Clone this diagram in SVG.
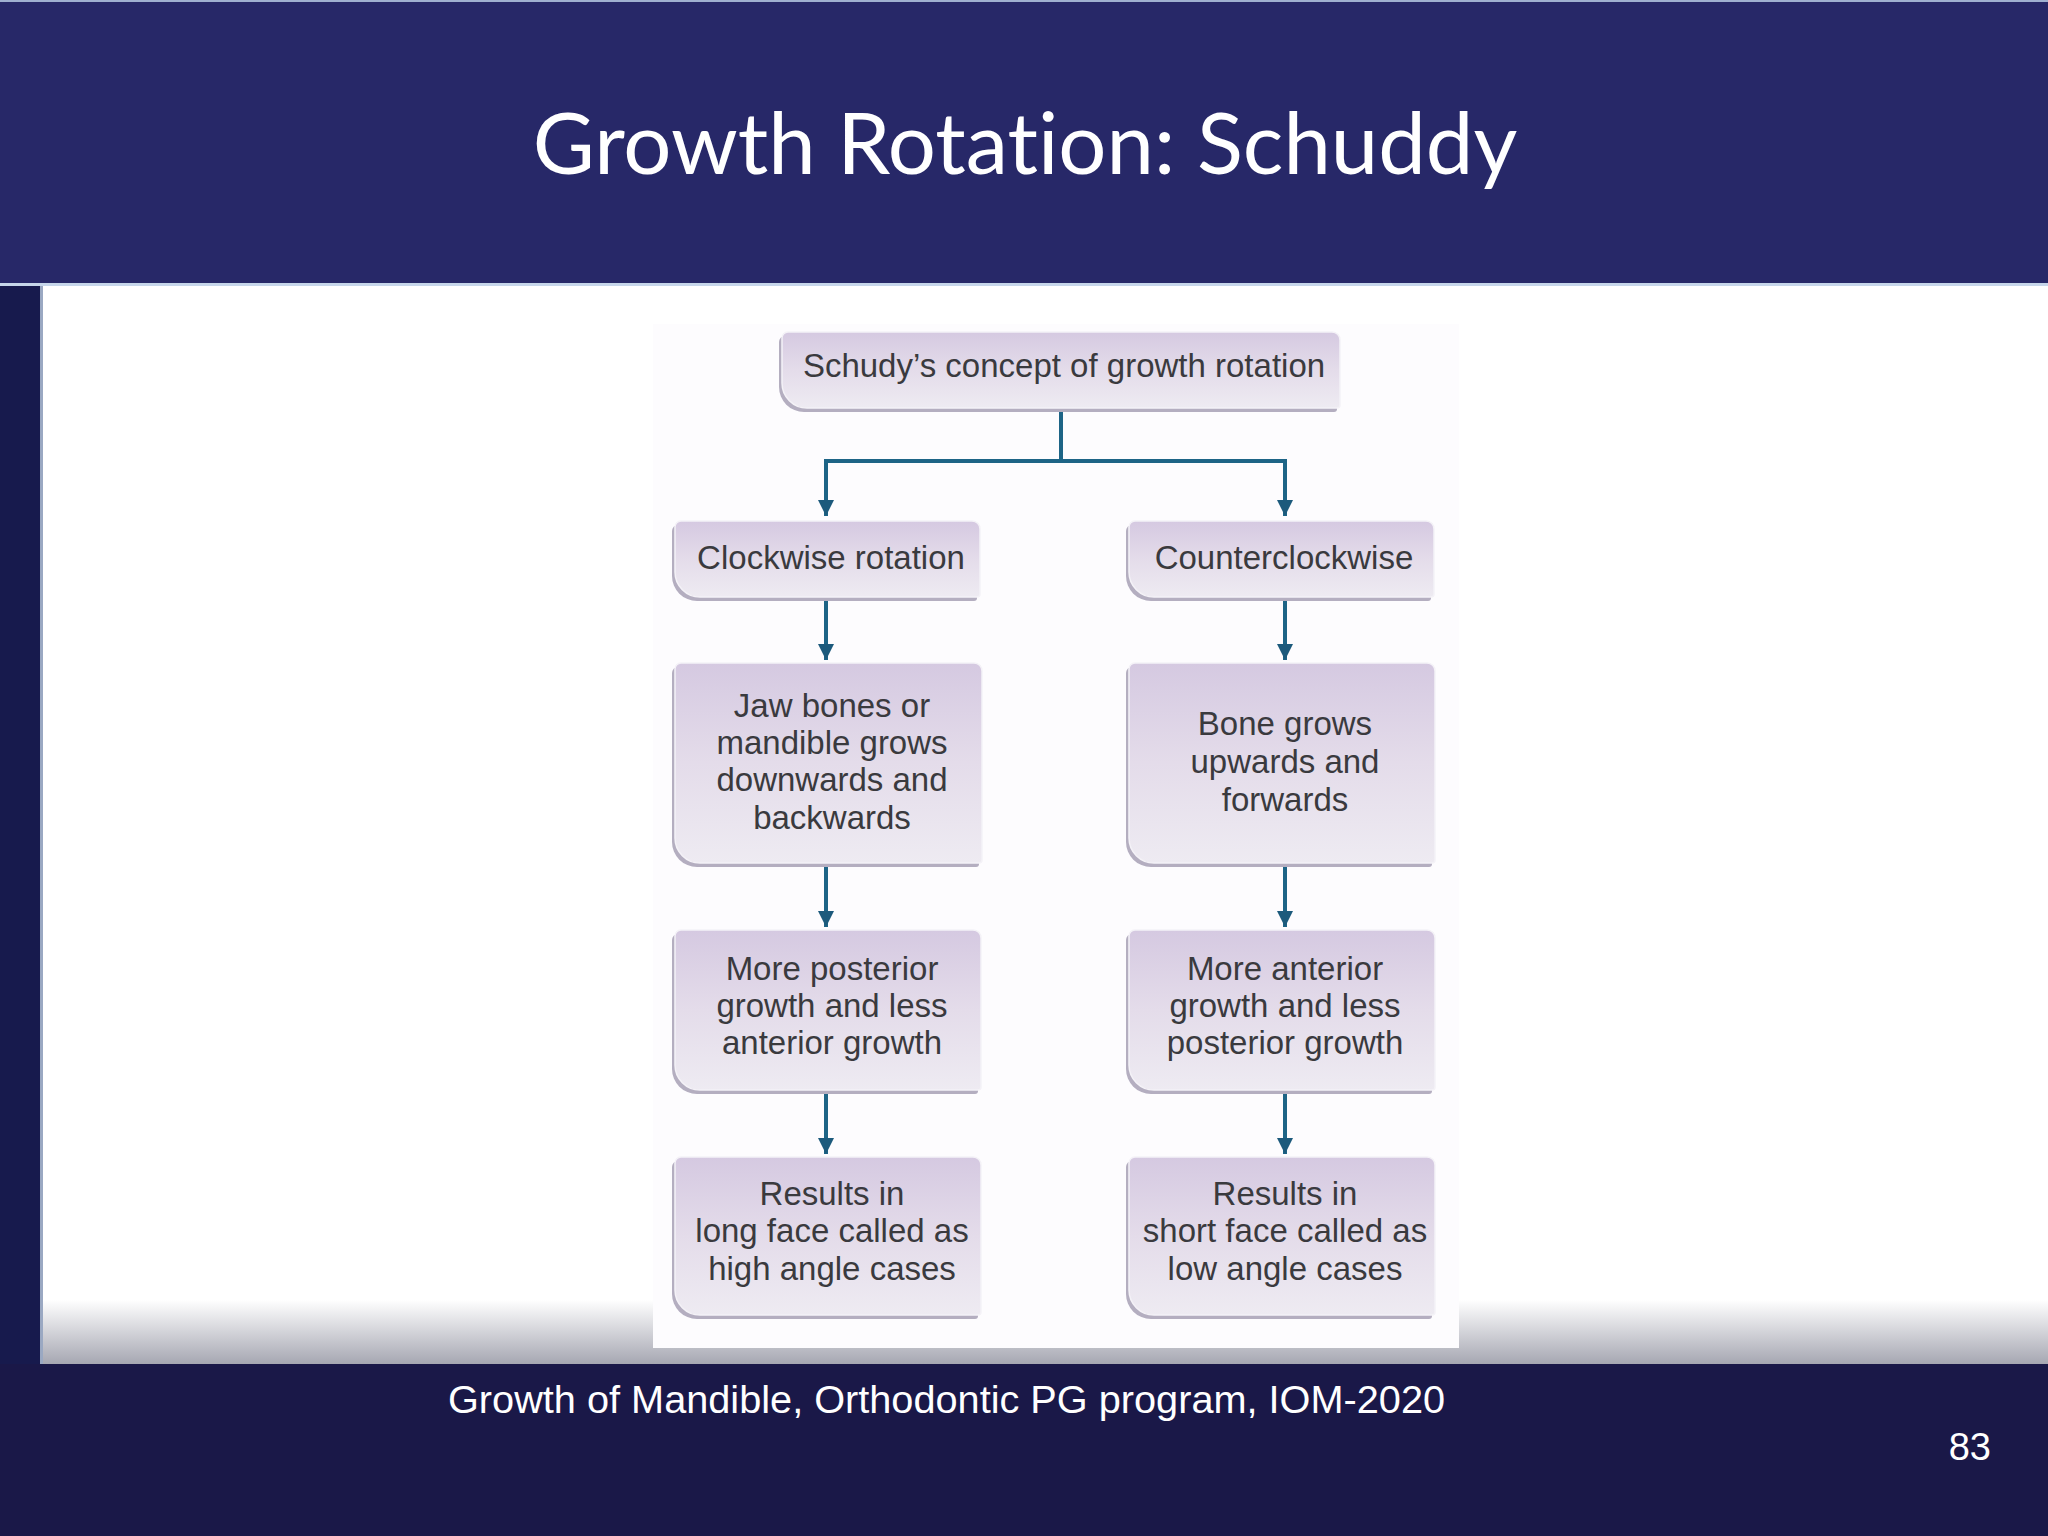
<svg xmlns="http://www.w3.org/2000/svg" width="2048" height="1536" viewBox="0 0 2048 1536">
  <defs>
    <linearGradient id="boxFill" x1="0" y1="0" x2="0" y2="1">
      <stop offset="0" stop-color="#d5c9e1"/>
      <stop offset="0.5" stop-color="#e4dcea"/>
      <stop offset="1" stop-color="#eeebf2"/>
    </linearGradient>
    <linearGradient id="fade" x1="0" y1="0" x2="0" y2="1">
      <stop offset="0" stop-color="#ffffff"/>
      <stop offset="1" stop-color="#a6a7b2"/>
    </linearGradient>
    <marker id="arrow" markerUnits="userSpaceOnUse" markerWidth="18" markerHeight="18" viewBox="0 0 18 18" refX="16" refY="9" orient="auto">
      <path d="M0,1 L16,9 L0,17 Z" fill="#1c5a7c"/>
    </marker>
    <style>
      .title { font-family: Lato, "Open Sans", "Liberation Sans", sans-serif; font-size: 85px; fill: #ffffff; font-variant-ligatures: none; }
      .foot { font-family: "Liberation Sans", Arial, sans-serif; fill: #ffffff; }
      .lbl { font-family: "Liberation Sans", Arial, sans-serif; font-size: 33px; fill: #3a3a3e; text-anchor: middle; }
      .box { fill: url(#boxFill); stroke: #f4f2f7; stroke-width: 1.5; }
      .shadow { fill: #b4aec0; }
      .conn { fill: none; stroke: #1d6486; stroke-width: 4; marker-end: url(#arrow); }
      .connplain { fill: none; stroke: #1d6486; stroke-width: 4; }
    </style>
  </defs>

  <!-- slide background -->
  <rect x="0" y="0" width="2048" height="1536" fill="#ffffff"/>
  <rect x="0" y="1300" width="2048" height="64" fill="url(#fade)"/>
  <!-- header -->
  <rect x="0" y="0" width="2048" height="284" fill="#272868"/>
  <rect x="0" y="0" width="2048" height="2" fill="#9fb0d0"/>
  <rect x="0" y="283" width="2048" height="3" fill="#c6d6ea"/>
  <!-- left strip -->
  <rect x="0" y="286" width="40" height="1078" fill="#171a4d"/>
  <rect x="40" y="286" width="3" height="1078" fill="#9aa8c2"/>
  <!-- footer -->
  <rect x="0" y="1364" width="2048" height="172" fill="#1a1848"/>

  <text class="title" x="1025" y="174" text-anchor="middle">Growth Rotation: Schuddy</text>
  <text class="foot" x="448" y="1413" font-size="39.7">Growth of Mandible, Orthodontic PG program, IOM-2020</text>
  <text class="foot" x="1991" y="1460" font-size="38" text-anchor="end">83</text>

  <!-- diagram image backdrop -->
  <rect x="653" y="324" width="806" height="1024" fill="#fdfcfe"/>

  <!-- connectors -->
  <g id="connectors">
    <path class="connplain" d="M1061,409 V461"/>
    <path class="conn" d="M1063,461 H826 V516"/>
    <path class="conn" d="M1059,461 H1285 V516"/>
    <path class="conn" d="M826,597 V660"/>
    <path class="conn" d="M1285,597 V660"/>
    <path class="conn" d="M826,863 V927"/>
    <path class="conn" d="M1285,863 V927"/>
    <path class="conn" d="M826,1090 V1154"/>
    <path class="conn" d="M1285,1090 V1154"/>
  </g>

  <!-- nodes -->
  <g id="n-root">
    <path class="shadow" transform="translate(-3,4)" d="M788,332 H1332 A8,8 0 0 1 1340,340 V405 A3,3 0 0 1 1337,408 H807 A25,25 0 0 1 782,383 V338 A6,6 0 0 1 788,332 Z"/>
    <path class="box" d="M788,332 H1332 A8,8 0 0 1 1340,340 V405 A3,3 0 0 1 1337,408 H807 A25,25 0 0 1 782,383 V338 A6,6 0 0 1 788,332 Z"/>
    <text class="lbl" x="1064" y="377">Schudy’s concept of growth rotation</text>
  </g>

  <g id="n-clockwise">
    <path class="shadow" transform="translate(-3,4)" d="M681,521 H972 A8,8 0 0 1 980,529 V594 A3,3 0 0 1 977,597 H700 A25,25 0 0 1 675,572 V527 A6,6 0 0 1 681,521 Z"/>
    <path class="box" d="M681,521 H972 A8,8 0 0 1 980,529 V594 A3,3 0 0 1 977,597 H700 A25,25 0 0 1 675,572 V527 A6,6 0 0 1 681,521 Z"/>
    <text class="lbl" x="831" y="569">Clockwise rotation</text>
  </g>

  <g id="n-counter">
    <path class="shadow" transform="translate(-3,4)" d="M1135,521 H1426 A8,8 0 0 1 1434,529 V594 A3,3 0 0 1 1431,597 H1154 A25,25 0 0 1 1129,572 V527 A6,6 0 0 1 1135,521 Z"/>
    <path class="box" d="M1135,521 H1426 A8,8 0 0 1 1434,529 V594 A3,3 0 0 1 1431,597 H1154 A25,25 0 0 1 1129,572 V527 A6,6 0 0 1 1135,521 Z"/>
    <text class="lbl" x="1284" y="569">Counterclockwise</text>
  </g>

  <g id="n-jaw">
    <path class="shadow" transform="translate(-3,4)" d="M681,663 H974 A8,8 0 0 1 982,671 V860 A3,3 0 0 1 979,863 H700 A25,25 0 0 1 675,838 V669 A6,6 0 0 1 681,663 Z"/>
    <path class="box" d="M681,663 H974 A8,8 0 0 1 982,671 V860 A3,3 0 0 1 979,863 H700 A25,25 0 0 1 675,838 V669 A6,6 0 0 1 681,663 Z"/>
    <text class="lbl" x="832" y="717">Jaw bones or</text>
    <text class="lbl" x="832" y="754">mandible grows</text>
    <text class="lbl" x="832" y="791">downwards and</text>
    <text class="lbl" x="832" y="829">backwards</text>
  </g>

  <g id="n-bone">
    <path class="shadow" transform="translate(-3,4)" d="M1135,663 H1427 A8,8 0 0 1 1435,671 V860 A3,3 0 0 1 1432,863 H1154 A25,25 0 0 1 1129,838 V669 A6,6 0 0 1 1135,663 Z"/>
    <path class="box" d="M1135,663 H1427 A8,8 0 0 1 1435,671 V860 A3,3 0 0 1 1432,863 H1154 A25,25 0 0 1 1129,838 V669 A6,6 0 0 1 1135,663 Z"/>
    <text class="lbl" x="1285" y="735">Bone grows</text>
    <text class="lbl" x="1285" y="773">upwards and</text>
    <text class="lbl" x="1285" y="811">forwards</text>
  </g>

  <g id="n-posterior">
    <path class="shadow" transform="translate(-3,4)" d="M681,930 H973 A8,8 0 0 1 981,938 V1087 A3,3 0 0 1 978,1090 H700 A25,25 0 0 1 675,1065 V936 A6,6 0 0 1 681,930 Z"/>
    <path class="box" d="M681,930 H973 A8,8 0 0 1 981,938 V1087 A3,3 0 0 1 978,1090 H700 A25,25 0 0 1 675,1065 V936 A6,6 0 0 1 681,930 Z"/>
    <text class="lbl" x="832" y="980">More posterior</text>
    <text class="lbl" x="832" y="1017">growth and less</text>
    <text class="lbl" x="832" y="1054">anterior growth</text>
  </g>

  <g id="n-anterior">
    <path class="shadow" transform="translate(-3,4)" d="M1135,930 H1427 A8,8 0 0 1 1435,938 V1087 A3,3 0 0 1 1432,1090 H1154 A25,25 0 0 1 1129,1065 V936 A6,6 0 0 1 1135,930 Z"/>
    <path class="box" d="M1135,930 H1427 A8,8 0 0 1 1435,938 V1087 A3,3 0 0 1 1432,1090 H1154 A25,25 0 0 1 1129,1065 V936 A6,6 0 0 1 1135,930 Z"/>
    <text class="lbl" x="1285" y="980">More anterior</text>
    <text class="lbl" x="1285" y="1017">growth and less</text>
    <text class="lbl" x="1285" y="1054">posterior growth</text>
  </g>

  <g id="n-long">
    <path class="shadow" transform="translate(-3,4)" d="M681,1157 H973 A8,8 0 0 1 981,1165 V1312 A3,3 0 0 1 978,1315 H700 A25,25 0 0 1 675,1290 V1163 A6,6 0 0 1 681,1157 Z"/>
    <path class="box" d="M681,1157 H973 A8,8 0 0 1 981,1165 V1312 A3,3 0 0 1 978,1315 H700 A25,25 0 0 1 675,1290 V1163 A6,6 0 0 1 681,1157 Z"/>
    <text class="lbl" x="832" y="1205">Results in</text>
    <text class="lbl" x="832" y="1242">long face called as</text>
    <text class="lbl" x="832" y="1280">high angle cases</text>
  </g>

  <g id="n-short">
    <path class="shadow" transform="translate(-3,4)" d="M1135,1157 H1427 A8,8 0 0 1 1435,1165 V1312 A3,3 0 0 1 1432,1315 H1154 A25,25 0 0 1 1129,1290 V1163 A6,6 0 0 1 1135,1157 Z"/>
    <path class="box" d="M1135,1157 H1427 A8,8 0 0 1 1435,1165 V1312 A3,3 0 0 1 1432,1315 H1154 A25,25 0 0 1 1129,1290 V1163 A6,6 0 0 1 1135,1157 Z"/>
    <text class="lbl" x="1285" y="1205">Results in</text>
    <text class="lbl" x="1285" y="1242">short face called as</text>
    <text class="lbl" x="1285" y="1280">low angle cases</text>
  </g>
</svg>
